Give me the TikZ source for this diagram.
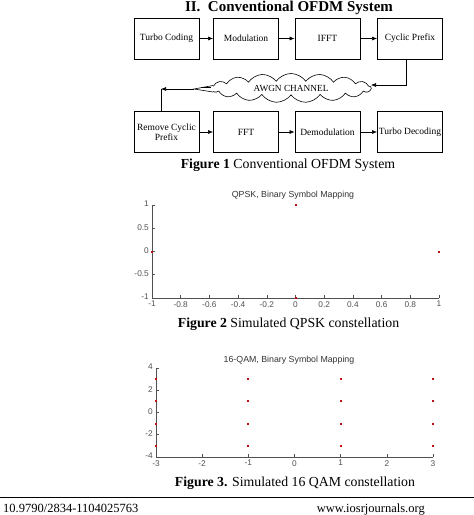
\documentclass[tikz,border=0pt]{standalone}
\usepackage{fontspec}
\setmainfont{Liberation Serif}
\newfontfamily\plotfont{Liberation Sans}
\usetikzlibrary{shapes.symbols,arrows.meta}
\definecolor{axisgray}{HTML}{505050}
\definecolor{dotred}{HTML}{C01010}
\tikzset{
  blockbox/.style={draw,line width=0.8pt,minimum width=65pt,minimum height=41pt,inner sep=1pt,align=center,font=\fontsize{9.5}{10.5}\selectfont},
  arr/.style={-{Latex[length=5pt,width=4pt]},line width=0.6pt},
  plainline/.style={line width=0.6pt},
  caption/.style={font=\fontsize{13.8}{15}\selectfont,anchor=base},
  axisline/.style={draw=axisgray,line width=0.7pt},
  ticklab/.style={font=\plotfont\fontsize{8.3}{9}\selectfont,text=axisgray,inner sep=0.5pt},
  plottitle/.style={font=\plotfont\fontsize{8.8}{9}\selectfont,text=black!80},
  dot/.style={fill=dotred,draw=none},
  footer/.style={font=\fontsize{12.5}{14}\selectfont,anchor=base}
}
\begin{document}
\begin{tikzpicture}[x=1pt,y=-1pt]
\useasboundingbox (0,0) rectangle (474,515);
% title
\node[font=\bfseries\fontsize{15}{16}\selectfont,anchor=base] (title) at (289,11) {II.\ \ Conventional OFDM System};
% top row
\node[blockbox] (tc) at (166.5,38.5) {Turbo Coding};
\node[blockbox] (mod) at (246,38.5) {Modulation};
\node[blockbox] (ifft) at (327.5,38.5) {IFFT};
\node[blockbox] (cp) at (410,38.5) {Cyclic Prefix};
% bottom row
\node[blockbox] (rcp) at (166.5,132) {Remove Cyclic\\Prefix};
\node[blockbox] (fft) at (246,132) {FFT};
\node[blockbox] (dem) at (327.5,132) {Demodulation};
\node[blockbox] (td) at (410,132) {Turbo Decoding};
\draw[arr] (tc) -- (mod);
\draw[arr] (mod) -- (ifft);
\draw[arr] (ifft) -- (cp);
\draw[arr] (rcp) -- (fft);
\draw[arr] (fft) -- (dem);
\draw[arr] (dem) -- (td);
% cloud
\node[cloud,draw,line width=0.6pt,cloud puffs=17,cloud puff arc=110,aspect=6,minimum width=160pt,minimum height=29pt,inner sep=0pt,font=\fontsize{9.3}{10}\selectfont] (cloud) at (291,88) {AWGN CHANNEL};
\coordinate (tip) at (194,89);
\draw[plainline,fill=white] (213,85.5) -- (tip) -- (213,92) ;
\draw[plainline] (201,87.5) -- (211,87.5);
\coordinate (cin) at (371,85);
\coordinate (corner) at (161,89);
\draw[arr] ([xshift=-4pt]cp.south) |- (cin);
\draw[arr] (tip) -- (corner);
\draw[plainline] (corner) -- (corner |- rcp.north);
\node[caption] (cap1) at (288,168) {\textbf{Figure 1} Conventional OFDM System};
% QPSK plot
\node[plottitle] (t2) at (293,195) {QPSK, Binary Symbol Mapping};
\begin{scope}[shift={(295.5pt,-251.5pt)},x=143.5pt,y=46.5pt]
  \draw[axisline] (-1,1) -- (-1,-1) -- (1,-1);
  \foreach \v/\l in {-1/-1,-0.8/-0.8,-0.6/-0.6,-0.4/-0.4,-0.2/-0.2,0/0,0.2/0.2,0.4/0.4,0.6/0.6,0.8/0.8,1/1}{
    \draw[axisgray,line width=0.6pt] (\v,-1) -- ++(0,3pt);
    \node[ticklab,anchor=north] at ([yshift=-2.5pt]\v,-1) {\l};
  }
  \foreach \v in {-1,-0.5,0,0.5,1}{
    \draw[axisgray,line width=0.6pt] (-1,\v) -- ++(3pt,0);
    \node[ticklab,anchor=east] at ([xshift=-2.5pt,yshift=1pt]-1,\v) {\v};
  }
  \foreach \px/\py in {0/1,1/0,-1/0,0/-1}{
    \fill[dot] (\px,\py) ++(-1pt,-1pt) rectangle ++(2pt,2pt);
  }
\end{scope}
\node[caption] (cap2) at (288.5,327) {\textbf{Figure 2} Simulated QPSK constellation};
% 16-QAM plot
\node[plottitle] (t3) at (289,360) {16-QAM, Binary Symbol Mapping};
\begin{scope}[shift={(294.5pt,-412.5pt)},x=46.17pt,y=11.125pt]
  \draw[axisline] (-3,4) -- (-3,-4) -- (3,-4);
  \foreach \v in {-3,-2,-1,0,1,2,3}{
    \draw[axisgray,line width=0.6pt] (\v,-4) -- ++(0,3pt);
    \node[ticklab,anchor=north] at ([yshift=-2.5pt]\v,-4) {\v};
  }
  \foreach \v in {-4,-2,0,2,4}{
    \draw[axisgray,line width=0.6pt] (-3,\v) -- ++(3pt,0);
    \node[ticklab,anchor=east] at ([xshift=-2.5pt,yshift=1pt]-3,\v) {\v};
  }
  \foreach \px in {-3,-1,1,3}{
    \foreach \py in {-3,-1,1,3}{
      \fill[dot] (\px,\py) ++(-1pt,-1pt) rectangle ++(2pt,2pt);
    }
  }
\end{scope}
\node[caption] (cap3) at (295,486) {\textbf{Figure 3.} Simulated 16 QAM constellation};
% footer
\draw[line width=1.3pt] (0,497.5) coordinate (fl) -- (474,497.5) coordinate (fr);
\node[footer,anchor=base west,inner sep=0pt] (doi) at (3,512) {10.9790/2834-1104025763};
\node[footer,anchor=base east,inner sep=0pt] (www) at (425,512) {www.iosrjournals.org};
\end{tikzpicture}
\end{document}
